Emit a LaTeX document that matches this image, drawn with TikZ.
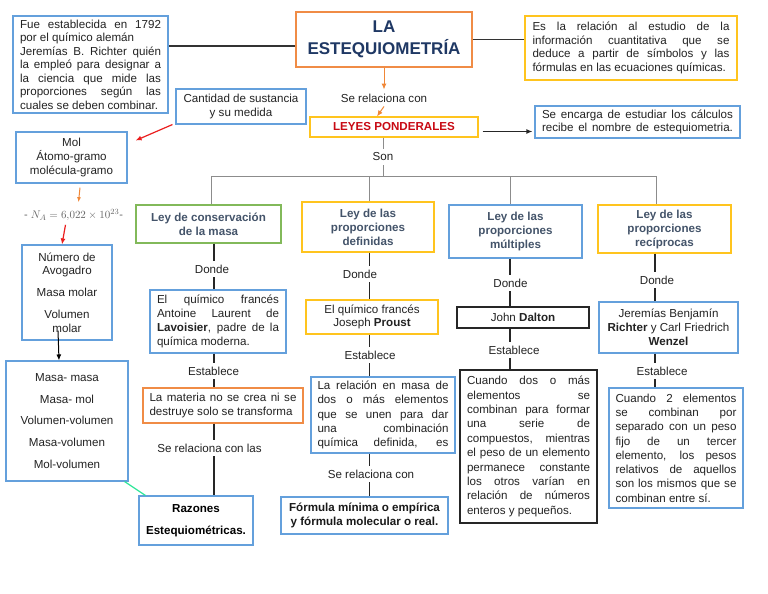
\documentclass[tikz,border=0pt]{standalone}
\usepackage{fontspec}
\setmainfont{Liberation Sans}
\usetikzlibrary{arrows.meta,calc}
\definecolor{bblue}{RGB}{100,160,220}
\definecolor{bgold}{RGB}{255,196,30}
\definecolor{borange}{RGB}{240,140,70}
\definecolor{bgreen}{RGB}{130,185,90}
\definecolor{tnavy}{RGB}{31,56,100}
\definecolor{tslate}{RGB}{68,84,106}
\definecolor{tred}{RGB}{200,10,20}
\definecolor{ared}{RGB}{235,30,30}
\definecolor{aorange}{RGB}{240,135,55}
\definecolor{agreen}{RGB}{40,230,150}
\definecolor{tgray}{RGB}{35,35,35}
\setlength{\parindent}{0pt}
\tolerance=10000 \hbadness=10000 \hyphenpenalty=10000 \exhyphenpenalty=10000
\tikzset{
  box/.style={draw, line width=1.1pt, font=\fontsize{11.6}{13.8}\selectfont, text=tgray, inner sep=0pt, align=center},
  jbox/.style={box, align=justify},
  leybox/.style={box, font=\fontsize{11.6}{14}\selectfont\bfseries, text=tslate},
  lbl/.style={font=\fontsize{11.6}{13.8}\selectfont, text=tgray, inner xsep=2pt, inner ysep=4pt},
  conn/.style={line width=1.6pt, draw=black!85},
  tree/.style={line width=1pt, draw=black!45},
  tip/.style={-{Latex[length=6pt,width=5pt]}}
}
\begin{document}
\begin{tikzpicture}[x=1pt,y=-1pt]
\useasboundingbox[fill=white] (0,0) rectangle (768,594);

% top row
\node[jbox, draw=bblue, minimum width=155pt, minimum height=97pt, text width=141pt, font=\fontsize{11.6}{13.5}\selectfont] (b1) at (90.5,64.5)
 {Fue establecida en 1792\linebreak por el químico alemán\par Jeremías B. Richter quién\linebreak la empleó para designar a\linebreak la ciencia que mide las\linebreak proporciones según las\linebreak cuales se deben combinar.};
\node[draw=borange, line width=1.1pt, minimum width=176pt, minimum height=55pt, font=\fontsize{17}{21.5}\selectfont\bfseries, text=tnavy, align=center, inner sep=0pt] (title) at (384,39.5) {LA\\ESTEQUIOMETRÍA};
\node[jbox, draw=bgold, minimum width=212pt, minimum height=64pt, text width=197pt] (b3) at (631,48)
 {Es la relación al estudio de la\linebreak información cuantitativa que se\linebreak deduce a partir de símbolos y las\linebreak fórmulas en las ecuaciones químicas.};

\coordinate (tl) at ([yshift=-6.5pt]title.west);
\draw[line width=1.8pt, black!80] (tl) -- (tl -| b1.east);
\draw[line width=1.8pt, black!80] (title.east) -- (title.east -| b3.west);

\node[lbl] (serel0) at (384,98) {Se relaciona con};
\node[box, draw=bblue, minimum width=130pt, minimum height=35pt] (cant) at (241,106.5) {Cantidad de sustancia\\y su medida};
\node[box, draw=bgold, minimum width=168pt, minimum height=20pt, font=\fontsize{11.6}{13.8}\selectfont\bfseries, text=tred] (leyes) at (394,127) {LEYES PONDERALES};
\node[jbox, draw=bblue, minimum width=205pt, minimum height=32pt, text width=191pt] (enc) at (637.5,122)
 {\parfillskip=0pt Se encarga de estudiar los cálculos\linebreak recibe el nombre de estequiometria.\par};

\draw[aorange, line width=1pt, tip] (title.south) -- (serel0.north);
\draw[aorange, line width=1pt, tip] (serel0.south) -- ([xshift=-17pt]leyes.north);
\coordinate (la) at ([xshift=4pt,yshift=-4.5pt]leyes.east);
\draw[line width=1.5pt, black!85, tip, shorten >=2pt] (la) -- (la -| enc.west);

% left column
\node[box, draw=bblue, minimum width=111pt, minimum height=51pt] (mol) at (71.5,157.5) {Mol\\Átomo-gramo\\molécula-gramo};
\node[text=black!60, font=\fontsize{11}{13}\selectfont, inner sep=1pt] (nA) at (73.5,215) {- $N_A = 6{,}022\times 10^{23}$-};
\node[box, draw=bblue, minimum width=90pt, minimum height=95pt] (num) at (67,292.5) {Número de\\Avogadro\\[8pt]Masa molar\\[8pt]Volumen\\molar};
\node[box, draw=bblue, minimum width=122pt, minimum height=120pt] (masa) at (67,421) {Masa- masa\\[8pt]Masa- mol\\[8pt]Volumen-volumen\\[8pt]Masa-volumen\\[8pt]Mol-volumen};
\node[box, draw=bblue, minimum width=114pt, minimum height=49pt, font=\fontsize{11.6}{13.8}\selectfont\bfseries, text=black] (raz) at (196,520.5) {Razones\\[8pt]Estequiométricas.};

\draw[ared, line width=1.2pt, tip] ([xshift=-3pt]cant.south west) -- ([xshift=8pt,yshift=17pt]mol.east);
\draw[aorange, line width=1pt, -{Latex[length=5pt,width=4pt]}] ([xshift=8.5pt,yshift=-4pt]mol.south) -- ([xshift=5pt,yshift=6pt]nA.north);
\draw[ared, line width=1.2pt, tip] ([xshift=-8pt,yshift=-3pt]nA.south) -- ([xshift=-5pt]num.north);
\draw[black, line width=1pt, tip] ([xshift=-9pt,yshift=10pt]num.south) -- ([xshift=-8pt]masa.north);
\draw[agreen, line width=1.2pt] ([xshift=-4pt]masa.south east) -- ([xshift=7pt]raz.north west);

% tree
\node[lbl] (son) at (383,157) {Son};
\node[leybox, draw=bgreen, minimum width=145pt, minimum height=38pt] (ley1) at (208.5,224) {Ley de conservación\\de la masa};
\node[leybox, draw=bgold, minimum width=132pt, minimum height=50pt] (ley2) at (368,227) {Ley de las\\proporciones\\definidas};
\node[leybox, draw=bblue, minimum width=133pt, minimum height=53pt] (ley3) at (515.5,231.5) {Ley de las\\proporciones\\múltiples};
\node[leybox, draw=bgold, minimum width=133pt, minimum height=48pt] (ley4) at (664.5,229) {Ley de las\\proporciones\\recíprocas};

\coordinate (cs) at (383,0);
\coordinate (hl) at (211,176);
\coordinate (hr) at (656,176);
\coordinate (d2) at (369,176);
\coordinate (d3) at (510,176);
\draw[tree] (leyes.south -| cs) -- (son.north -| cs);
\draw[tree] (son.south -| cs) -- (cs |- hl);
\draw[tree] (hl) -- (hr);
\draw[tree] (hl) -- (hl |- ley1.north);
\draw[tree] (d2) -- (d2 |- ley2.north);
\draw[tree] (d3) -- (d3 |- ley3.north);
\draw[tree] (hr) -- (hr |- ley4.north);

% column 1
\coordinate (c1) at (214,0);
\node[lbl] (don1) at (212,269) {Donde};
\node[jbox, draw=bblue, minimum width=136pt, minimum height=63pt, text width=122pt] (lav) at (218,321.5)
 {El químico francés\linebreak Antoine Laurent de\linebreak \textbf{Lavoisier}, padre de la\linebreak química moderna.};
\node[lbl] (est1) at (213.5,371) {Establece};
\node[jbox, draw=borange, minimum width=160pt, minimum height=35pt, text width=147pt] (mat) at (223,405.5)
 {La materia no se crea ni se\linebreak destruye solo se transforma};
\node[lbl] (rel1) at (209.5,448) {Se relaciona con las};
\draw[conn] (ley1.south -| c1) -- (don1.north -| c1);
\draw[conn] (don1.south -| c1) -- (lav.north -| c1);
\draw[conn] (lav.south -| c1) -- (est1.north -| c1);
\draw[conn] (est1.south -| c1) -- (mat.north -| c1);
\draw[conn] (mat.south -| c1) -- (rel1.north -| c1);
\draw[conn] (rel1.south -| c1) -- (raz.north -| c1);

% column 2
\coordinate (c2) at (369.5,0);
\node[lbl] (don2) at (360,274) {Donde};
\node[box, draw=bgold, minimum width=132pt, minimum height=34pt] (pro) at (372,317) {El químico francés\\Joseph \textbf{Proust}};
\node[lbl] (est2) at (370,355) {Establece};
\node[jbox, draw=bblue, minimum width=144pt, minimum height=76pt, text width=131pt, font=\fontsize{11.6}{14.2}\selectfont] (rel) at (383,415)
 {\parfillskip=0pt La relación en masa de\linebreak dos o más elementos\linebreak que se unen para dar\linebreak una combinación\linebreak química definida, es\par};
\node[lbl] (rel2) at (371,474) {Se relaciona con};
\node[box, draw=bblue, minimum width=167pt, minimum height=37pt, font=\fontsize{11.6}{14.5}\selectfont\bfseries, text=black!90] (fmin) at (364.5,515.5) {Fórmula mínima o empírica\\y fórmula molecular o real.};
\draw[conn] (ley2.south -| c2) -- (don2.north -| c2);
\draw[conn] (don2.south -| c2) -- (pro.north -| c2);
\draw[conn] (pro.south -| c2) -- (est2.north -| c2);
\draw[conn] (est2.south -| c2) -- (rel.north -| c2);
\draw[conn] (rel.south -| c2) -- (rel2.north -| c2);
\draw[conn] (rel2.south -| c2) -- (fmin.north -| c2);

% column 3
\coordinate (c3) at (510,0);
\node[lbl] (don3) at (510.5,283) {Donde};
\node[box, draw=black!85, minimum width=132pt, minimum height=21pt] (dal) at (523,317.5) {John \textbf{Dalton}};
\node[lbl] (est3) at (514,350) {Establece};
\node[jbox, draw=black!85, minimum width=137pt, minimum height=153pt, text width=123pt, font=\fontsize{11.6}{14.4}\selectfont] (cua) at (528.5,446.5)
 {Cuando dos o más\linebreak elementos se\linebreak combinan para formar\linebreak una serie de\linebreak compuestos, mientras\linebreak el peso de un elemento\linebreak permanece constante\linebreak los otros varían en\linebreak relación de números\linebreak enteros y pequeños.};
\draw[conn] (ley3.south -| c3) -- (don3.north -| c3);
\draw[conn] (don3.south -| c3) -- (dal.north -| c3);
\draw[conn] (dal.south -| c3) -- (est3.north -| c3);
\draw[conn] (est3.south -| c3) -- (cua.north -| c3);

% column 4
\coordinate (c4) at (655,0);
\node[lbl] (don4) at (657,280) {Donde};
\node[box, draw=bblue, minimum width=139pt, minimum height=51pt] (ric) at (668.5,327.5) {Jeremías Benjamín\\\textbf{Richter} y Carl Friedrich\\\textbf{Wenzel}};
\node[lbl] (est4) at (662,371) {Establece};
\node[jbox, draw=bblue, minimum width=134pt, minimum height=120pt, text width=121pt, font=\fontsize{11.6}{14.3}\selectfont] (cu2) at (676,448)
 {Cuando 2 elementos\linebreak se combinan por\linebreak separado con un peso\linebreak fijo de un tercer\linebreak elemento, los pesos\linebreak relativos de aquellos\linebreak son los mismos que se\linebreak combinan entre sí.};
\draw[conn] (ley4.south -| c4) -- (don4.north -| c4);
\draw[conn] (don4.south -| c4) -- (ric.north -| c4);
\draw[conn] (ric.south -| c4) -- (est4.north -| c4);
\draw[conn] (est4.south -| c4) -- (cu2.north -| c4);
\end{tikzpicture}
\end{document}
